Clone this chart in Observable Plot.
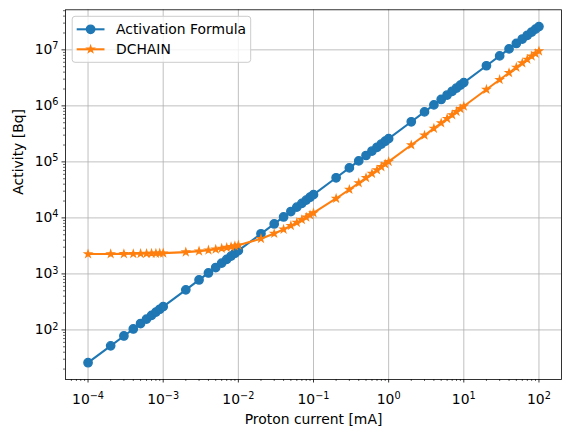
<!DOCTYPE html>
<html>
<head>
<meta charset="utf-8">
<script src="https://cdn.jsdelivr.net/npm/d3@7"></script>
<script src="https://cdn.jsdelivr.net/npm/@observablehq/plot@0.6"></script>
<style>
  html, body { margin: 0; padding: 0; background: white; }
  #chart svg { display: block; }
</style>
</head>
<body>
<div id="chart"></div>
<script>
// ---- data ----
const current = [
  0.0001, 0.0002, 0.0003, 0.0004, 0.0005, 0.0006, 0.0007, 0.0008, 0.0009,
  0.001, 0.002, 0.003, 0.004, 0.005, 0.006, 0.007, 0.008, 0.009,
  0.01, 0.02, 0.03, 0.04, 0.05, 0.06, 0.07, 0.08, 0.09,
  0.1, 0.2, 0.3, 0.4, 0.5, 0.6, 0.7, 0.8, 0.9,
  1, 2, 3, 4, 5, 6, 7, 8, 9,
  10, 20, 30, 40, 50, 60, 70, 80, 90,
  100
];
const activation = [
  26, 52, 78, 104, 130, 156, 182, 208, 234,
  260, 520, 780, 1040, 1300, 1560, 1820, 2080, 2340,
  2600, 5200, 7800, 10400, 13000, 15600, 18200, 20800, 23400,
  26000, 52000, 78000, 104000, 130000, 156000, 182000, 208000, 234000,
  260000, 520000, 780000, 1040000, 1300000, 1560000, 1820000, 2080000, 2340000,
  2600000, 5200000, 7800000, 10400000, 13000000, 15600000, 18200000, 20800000, 23400000,
  26000000
];
const dchain = [
  2260, 2270, 2280, 2290, 2300, 2310, 2320, 2330, 2340,
  2350, 2450, 2550, 2650, 2750, 2850, 2950, 3050, 3150,
  3250, 4250, 5250, 6250, 7250, 8250, 9250, 10250, 11250,
  12250, 22200, 32100, 42000, 52000, 62000, 71500, 81500, 91500,
  101000, 200000, 298000, 396000, 494000, 592000, 690000, 788000, 886000,
  984000, 1960000, 2930000, 3900000, 4860000, 5820000, 6750000, 7700000, 8600000,
  9500000
];
const seriesNames = ["Activation Formula", "DCHAIN"];
const xMajor = [1e-4, 1e-3, 1e-2, 1e-1, 1, 10, 100];
const yMajor = [1e2, 1e3, 1e4, 1e5, 1e6, 1e7];
const xLabel = "Proton current [mA]";
const yLabel = "Activity [Bq]";

// ---- styles ----
const colors = ["#1f77b4", "#ff7f0e"];
const font = "DejaVu Sans";
const fs = 13.9;

const rows = current.map((c, i) => ({current: c, activation: activation[i], dchain: dchain[i]}));

const xDomain = [Math.pow(10, -4.3), Math.pow(10, 2.3)];
const yDomain = [Math.pow(10, 1.11497), Math.pow(10, 7.71497)];

function minorTicks(domain, k0, k1) {
  const out = [];
  for (let k = k0; k <= k1; k++) for (let m = 2; m <= 9; m++) {
    const v = m * Math.pow(10, k);
    if (v >= domain[0] && v <= domain[1]) out.push(v);
  }
  return out;
}
const xMinor = minorTicks(xDomain, -5, 2);
const yMinor = minorTicks(yDomain, 1, 7);
const expFmt = d => "10^" + Math.round(Math.log10(d));

const starR = 2.2;

const svg = Plot.plot({
  width: 570,
  height: 437,
  marginLeft: 65,
  marginRight: 9,
  marginTop: 9.3,
  marginBottom: 58,
  style: {fontFamily: font, fontSize: fs + "px", background: "white", color: "black"},
  x: {type: "log", domain: xDomain},
  y: {type: "log", domain: yDomain},
  marks: [
    Plot.gridX(xMajor, {stroke: "#b0b0b0", strokeOpacity: 1, strokeWidth: 0.8}),
    Plot.gridY(yMajor, {stroke: "#b0b0b0", strokeOpacity: 1, strokeWidth: 0.8}),
    Plot.axisX(xMinor, {tickSize: 2, strokeWidth: 0.6, tickFormat: () => "", label: null}),
    Plot.axisY(yMinor, {tickSize: 2, strokeWidth: 0.6, tickFormat: () => "", label: null}),
    Plot.axisX(xMajor, {tickSize: 3.5, tickPadding: 11, strokeWidth: 0.8, tickFormat: expFmt, label: null, fontSize: fs}),
    Plot.axisY(yMajor, {tickSize: 3.5, tickPadding: 3.5, strokeWidth: 0.8, tickFormat: expFmt, label: null, fontSize: fs}),
    Plot.line(rows, {x: "current", y: "activation", stroke: colors[0], strokeWidth: 2.08}),
    Plot.dot(rows, {x: "current", y: "activation", r: 4.17, symbol: "circle", fill: colors[0], stroke: colors[0], strokeWidth: 1.39}),
    Plot.line(rows, {x: "current", y: "dchain", stroke: colors[1], strokeWidth: 2.08}),
    Plot.dot(rows, {x: "current", y: "dchain", r: starR, symbol: "star", fill: colors[1], stroke: colors[1], strokeWidth: 1.2}),
    Plot.frame({stroke: "black", strokeWidth: 0.8}),
    Plot.text([xLabel], {frameAnchor: "bottom", dy: 40, lineAnchor: "middle", text: d => d, fontSize: fs, fill: "black"}),
    Plot.text([yLabel], {frameAnchor: "left", dx: -47, rotate: -90, lineAnchor: "middle", text: d => d, fontSize: fs, fill: "black"})
  ]
});

// superscript exponents on tick labels
d3.select(svg).selectAll('g[aria-label="x-axis tick label"] text, g[aria-label="y-axis tick label"] text').each(function() {
  const t = this.textContent;
  if (!t || t.indexOf("^") < 0) return;
  const e = t.split("^")[1].replace("-", "\u2212");
  const sel = d3.select(this);
  sel.text("");
  sel.append("tspan").text("10");
  sel.append("tspan").attr("dy", "-0.5em").attr("font-size", "70%").text(e);
});

// legend
const lg = d3.select(svg).append("g").attr("font-family", font).attr("font-size", fs).attr("text-anchor", "start");
lg.append("rect").attr("x", 72.2).attr("y", 16.3).attr("width", 178.5).attr("height", 46)
  .attr("rx", 2.8).attr("fill", "white").attr("fill-opacity", 0.8)
  .attr("stroke", "#cccccc").attr("stroke-width", 1);
const symbols = [d3.symbolCircle, d3.symbolStar];
const symR = [4.17, starR];
const symSW = [1.39, 1.2];
seriesNames.forEach((name, i) => {
  const cy = 29.3 + i * 20;
  lg.append("line").attr("x1", 76.7).attr("x2", 104.5).attr("y1", cy).attr("y2", cy)
    .attr("stroke", colors[i]).attr("stroke-width", 2.08);
  lg.append("path").attr("d", d3.symbol(symbols[i], symR[i] * symR[i] * Math.PI)())
    .attr("transform", `translate(90.6,${cy})`)
    .attr("fill", colors[i]).attr("stroke", colors[i]).attr("stroke-width", symSW[i]);
  lg.append("text").attr("x", 116).attr("y", cy).attr("dy", "0.36em")
    .attr("text-anchor", "start").attr("fill", "black").text(name);
});

document.getElementById("chart").appendChild(svg);
</script>
</body>
</html>
